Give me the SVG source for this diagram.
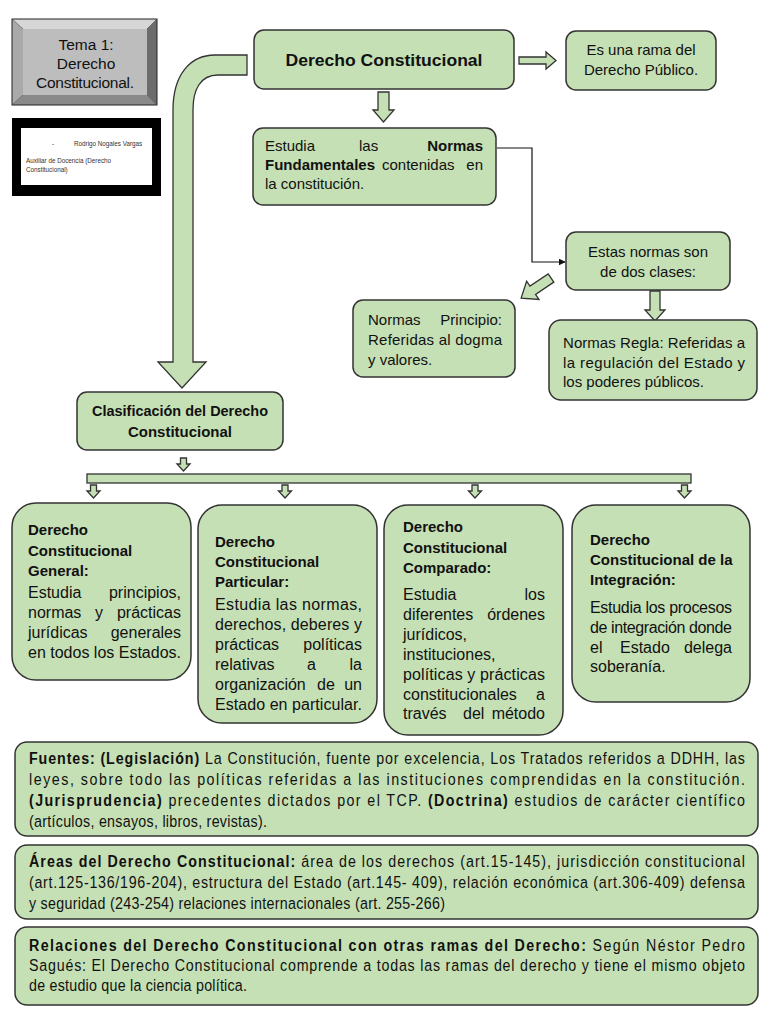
<svg xmlns="http://www.w3.org/2000/svg" width="768" height="1024" viewBox="0 0 768 1024">
<style>
.box{fill:#c5e0b4;stroke:#333;stroke-width:1.5}
.arr{fill:#c5e0b4;stroke:#333;stroke-width:1.3;stroke-linejoin:miter}
text{font-family:"Liberation Sans",Arial,sans-serif;fill:#111}
.t15{font-size:15px}
.t16{font-size:16px}
.b15{font-size:15px;font-weight:bold}
.bt{font-size:17px}
.b{font-weight:bold}
.mid{text-anchor:middle}
.end{text-anchor:end}
.tiny{font-size:6.3px;fill:#333}
</style>
<defs>
<path id="sa" d="M-3,0 H3 V6 H6.5 L0,13 L-6.5,6 H-3 Z"/>
<marker id="tri" viewBox="0 0 10 10" refX="9" refY="5" markerWidth="7" markerHeight="7" orient="auto" markerUnits="userSpaceOnUse">
<path d="M0,0 L10,5 L0,10 Z" fill="#111"/>
</marker>
</defs>
<rect width="768" height="1024" fill="#fff"/>

<g id="tema">
<polygon points="12,19 157,19 147,29 23,29" fill="#d6d6d6"/>
<polygon points="12,19 23,29 23,95 12,105" fill="#a9a9a9"/>
<polygon points="157,19 157,105 147,95 147,29" fill="#6c6c6c"/>
<polygon points="12,105 23,95 147,95 157,105" fill="#8a8a8a"/>
<rect x="23" y="29" width="124" height="66" fill="#bdbdbd"/>
<rect x="12" y="19" width="145" height="86" fill="none" stroke="#222" stroke-width="1"/>
<path d="M12,19 L23,29 M157,19 L147,29 M12,105 L23,95 M157,105 L147,95" stroke="#444" stroke-width="0.6"/>
<text class="mid" x="86" y="50" style="font-size:15.5px">Tema 1:</text>
<text class="mid" x="86" y="69" style="font-size:15.5px">Derecho</text>
<text class="mid" x="85" y="88" style="font-size:15.5px" textLength="98">Constitucional.</text>
</g>

<g id="autor">
<rect x="12" y="118" width="149" height="78" fill="#000"/>
<rect x="21" y="128" width="131" height="57" fill="#fff"/>
<text class="tiny" x="52" y="146">-</text>
<text class="tiny" x="74" y="146">Rodrigo Nogales Vargas</text>
<text class="tiny" x="26" y="163">Auxiliar de Docencia (Derecho</text>
<text class="tiny" x="26" y="172">Constitucional)</text>
</g>

<g id="connectors">
<path class="arr" d="M247,55 L215,55 C190,55 173,75 173,110 L173,362 L158,362 L182,388 L206,362 L193,362 L193,110 C193,90 200,75 218,75 L247,75 Z"/>
<polygon class="arr" points="519,57 546,57 546,52 556,60.5 546,69 546,64 519,64"/>
<polygon class="arr" points="378,92 389,92 389,110 394,110 383.5,122 373,110 378,110"/>
<path d="M497,148 H532 V262 H565" fill="none" stroke="#111" stroke-width="1.2" marker-end="url(#tri)"/>
<polygon class="arr" transform="translate(551,278) rotate(146)" points="0,-5 22,-5 22,-11 36,0 22,11 22,5 0,5"/>
<polygon class="arr" points="650,291 660,291 660,310 665,310 655,321 645,310 650,310"/>
<use href="#sa" x="183.5" y="458" class="arr"/>
<rect class="arr" x="87" y="474" width="604" height="9"/>
<use href="#sa" x="93.5" y="485" class="arr"/>
<use href="#sa" x="285" y="485" class="arr"/>
<use href="#sa" x="475" y="485" class="arr"/>
<use href="#sa" x="684.5" y="485" class="arr"/>
</g>

<g id="derecho-constitucional">
<rect class="box" x="254" y="30" width="260" height="59" rx="10"/>
<text class="mid" x="384" y="66" style="font-size:17px;font-weight:bold" textLength="197" lengthAdjust="spacingAndGlyphs">Derecho Constitucional</text>
</g>

<g id="rama">
<rect class="box" x="566" y="31" width="150" height="59" rx="10"/>
<text class="t15 mid" x="641" y="55">Es una rama del</text>
<text class="t15 mid" x="641" y="75">Derecho Público.</text>
</g>

<g id="estudia">
<rect class="box" x="253" y="128" width="243" height="77" rx="10"/>
<text class="t15" x="265" y="151">Estudia</text>
<text class="t15" x="359" y="151">las</text>
<text class="b15 end" x="483" y="151">Normas</text>
<text class="b15" x="265" y="170">Fundamentales</text>
<text class="t15" x="382" y="170">contenidas</text>
<text class="t15 end" x="483" y="170">en</text>
<text class="t15" x="265" y="189">la constitución.</text>
</g>

<g id="dos-clases">
<rect class="box" x="566" y="232" width="164" height="58" rx="10"/>
<text class="t15 mid" x="648" y="257">Estas normas son</text>
<text class="t15 mid" x="648" y="277">de dos clases:</text>
</g>

<g id="normas-principio">
<rect class="box" x="353" y="300" width="162" height="77" rx="10"/>
<text class="t15" x="368" y="325">Normas</text>
<text class="t15 end" x="502" y="325">Principio:</text>
<text class="t15" x="368" y="345" textLength="134">Referidas al dogma</text>
<text class="t15" x="368" y="365">y valores.</text>
</g>

<g id="normas-regla">
<rect class="box" x="549" y="320" width="208" height="80" rx="12"/>
<text class="t15" x="563" y="348" textLength="182">Normas Regla: Referidas a</text>
<text class="t15" x="563" y="368" textLength="182">la regulación del Estado y</text>
<text class="t15" x="563" y="387">los poderes públicos.</text>
</g>

<g id="clasificacion">
<rect class="box" x="77" y="392" width="206" height="58" rx="10"/>
<text class="mid" x="180" y="416" style="font-size:15px;font-weight:bold" textLength="176" lengthAdjust="spacingAndGlyphs">Clasificación del Derecho</text>
<text class="mid" x="180" y="437" style="font-size:15px;font-weight:bold" textLength="104" lengthAdjust="spacingAndGlyphs">Constitucional</text>
</g>

<g id="general">
<rect class="box" x="12" y="503" width="179" height="177" rx="24"/>
<text class="b15" x="28" y="535">Derecho</text>
<text class="b15" x="28" y="556">Constitucional</text>
<text class="b15" x="28" y="576">General:</text>
<text class="t16" x="28" y="598">Estudia</text>
<text class="t16 end" x="181" y="598">principios,</text>
<text class="t16" x="28" y="618">normas</text>
<text class="t16" x="95" y="618">y</text>
<text class="t16 end" x="181" y="618">prácticas</text>
<text class="t16" x="28" y="638">jurídicas</text>
<text class="t16 end" x="181" y="638">generales</text>
<text class="t16" x="28" y="658" textLength="153">en todos los Estados.</text>
</g>

<g id="particular">
<rect class="box" x="198" y="505" width="179" height="218" rx="24"/>
<text class="b15" x="215" y="547">Derecho</text>
<text class="b15" x="215" y="567">Constitucional</text>
<text class="b15" x="215" y="587">Particular:</text>
<text class="t16" x="215" y="610" textLength="147">Estudia las normas,</text>
<text class="t16" x="215" y="630" textLength="147">derechos, deberes y</text>
<text class="t16" x="215" y="650">prácticas</text>
<text class="t16 end" x="362" y="650">políticas</text>
<text class="t16" x="215" y="670">relativas</text>
<text class="t16" x="307" y="670">a</text>
<text class="t16 end" x="362" y="670">la</text>
<text class="t16" x="215" y="690">organización</text>
<text class="t16" x="317" y="690">de</text>
<text class="t16 end" x="362" y="690">un</text>
<text class="t16" x="215" y="710" textLength="147">Estado en particular.</text>
</g>

<g id="comparado">
<rect class="box" x="384" y="505" width="179" height="230" rx="24"/>
<text class="b15" x="403" y="532">Derecho</text>
<text class="b15" x="403" y="553">Constitucional</text>
<text class="b15" x="403" y="573">Comparado:</text>
<text class="t16" x="403" y="600">Estudia</text>
<text class="t16 end" x="545" y="600">los</text>
<text class="t16" x="403" y="620">diferentes</text>
<text class="t16 end" x="545" y="620">órdenes</text>
<text class="t16" x="403" y="640">jurídicos,</text>
<text class="t16" x="403" y="660">instituciones,</text>
<text class="t16" x="403" y="680" textLength="142">políticas y prácticas</text>
<text class="t16" x="403" y="700">constitucionales</text>
<text class="t16 end" x="545" y="700">a</text>
<text class="t16" x="403" y="719">través</text>
<text class="t16" x="463" y="719">del</text>
<text class="t16 end" x="545" y="719">método</text>
</g>

<g id="integracion">
<rect class="box" x="572" y="505" width="178" height="197" rx="24"/>
<text class="b15" x="590" y="545">Derecho</text>
<text class="b15" x="590" y="565">Constitucional de la</text>
<text class="b15" x="590" y="585">Integración:</text>
<text class="t16" x="590" y="613" textLength="142">Estudia los procesos</text>
<text class="t16" x="590" y="633" textLength="142">de integración donde</text>
<text class="t16" x="590" y="653">el</text>
<text class="t16" x="620" y="653">Estado</text>
<text class="t16 end" x="732" y="653">delega</text>
<text class="t16" x="590" y="672">soberanía.</text>
</g>

<g id="fuentes">
<rect class="box" x="15" y="742" width="743" height="94" rx="12"/>
<g transform="scale(0.84,1)">
<text class="bt" x="34.52" y="764" textLength="852.38" lengthAdjust="spacing"><tspan class="b">Fuentes: (Legislación)</tspan> La Constitución, fuente por excelencia, Los Tratados referidos a DDHH, las</text>
<text class="bt" x="34.52" y="785" textLength="852.38" lengthAdjust="spacing">leyes, sobre todo las políticas referidas a las instituciones comprendidas en la constitución.</text>
<text class="bt" x="34.52" y="806" textLength="852.38" lengthAdjust="spacing"><tspan class="b">(Jurisprudencia)</tspan> precedentes dictados por el TCP. <tspan class="b">(Doctrina)</tspan> estudios de carácter científico</text>
<text class="bt" x="34.52" y="827" textLength="283.3" lengthAdjust="spacing">(artículos, ensayos, libros, revistas).</text>
</g>
</g>

<g id="areas">
<rect class="box" x="15" y="845" width="743" height="74" rx="12"/>
<g transform="scale(0.84,1)">
<text class="bt" x="34.52" y="867" textLength="852.38" lengthAdjust="spacing"><tspan class="b">Áreas del Derecho Constitucional:</tspan> área de los derechos (art.15-145), jurisdicción constitucional</text>
<text class="bt" x="34.52" y="888" textLength="852.38" lengthAdjust="spacing">(art.125-136/196-204), estructura del Estado (art.145- 409), relación económica (art.306-409) defensa</text>
<text class="bt" x="34.52" y="909" textLength="495.2" lengthAdjust="spacing">y seguridad (243-254) relaciones internacionales (art. 255-266)</text>
</g>
</g>

<g id="relaciones">
<rect class="box" x="15" y="927" width="743" height="78" rx="12"/>
<g transform="scale(0.84,1)">
<text class="bt" x="34.52" y="951" textLength="852.38" lengthAdjust="spacing"><tspan class="b">Relaciones del Derecho Constitucional con otras ramas del Derecho:</tspan> Según Néstor Pedro</text>
<text class="bt" x="34.52" y="971" textLength="852.38" lengthAdjust="spacing">Sagués: El Derecho Constitucional comprende a todas las ramas del derecho y tiene el mismo objeto</text>
<text class="bt" x="34.52" y="991" textLength="259.5" lengthAdjust="spacing">de estudio que la ciencia política.</text>
</g>
</g>
</svg>
